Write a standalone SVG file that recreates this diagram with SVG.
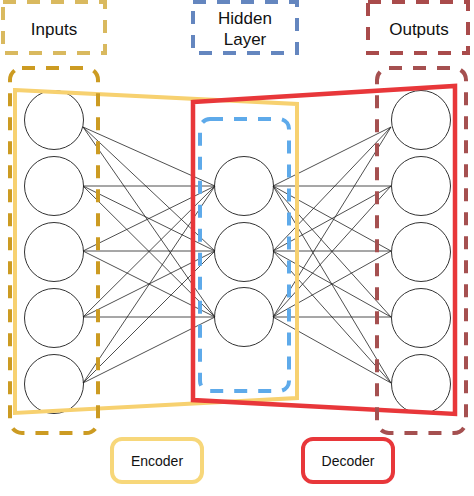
<svg xmlns="http://www.w3.org/2000/svg" width="474" height="496" viewBox="0 0 474 496">
<style>
.node{fill:#fff;stroke:#333;stroke-width:1}
.conn line{stroke:#222;stroke-width:0.8}
.lbl{font-family:"Liberation Sans",Arial,sans-serif;font-size:17px;fill:#111;text-anchor:middle}
.sm{font-size:14px}
.dash{fill:none;stroke-width:4;stroke-dasharray:13 11}
</style>
<rect width="474" height="496" fill="#fff"/>
<g id="input-nodes">
<circle class="node" cx="54" cy="120" r="29.5"/>
<circle class="node" cx="54" cy="186" r="29.5"/>
<circle class="node" cx="54" cy="252" r="29.5"/>
<circle class="node" cx="54" cy="318" r="29.5"/>
<circle class="node" cx="54" cy="384" r="29.5"/>
</g>
<g id="hidden-nodes">
<circle class="node" cx="244" cy="186" r="29.5"/>
<circle class="node" cx="244" cy="252" r="29.5"/>
<circle class="node" cx="244" cy="317" r="29.5"/>
</g>
<g id="output-nodes">
<circle class="node" cx="421" cy="120" r="29.5"/>
<circle class="node" cx="421" cy="186" r="29.5"/>
<circle class="node" cx="421" cy="252" r="29.5"/>
<circle class="node" cx="421" cy="318" r="29.5"/>
<circle class="node" cx="421" cy="384" r="29.5"/>
</g>
<g id="connectors" class="conn">
<line x1="83" y1="127" x2="215" y2="186"/><line x1="83" y1="127" x2="215" y2="251"/><line x1="83" y1="127" x2="215" y2="317"/>
<line x1="83" y1="186" x2="215" y2="186"/><line x1="83" y1="186" x2="215" y2="251"/><line x1="83" y1="186" x2="215" y2="317"/>
<line x1="83" y1="251" x2="215" y2="186"/><line x1="83" y1="251" x2="215" y2="251"/><line x1="83" y1="251" x2="215" y2="317"/>
<line x1="83" y1="317" x2="215" y2="186"/><line x1="83" y1="317" x2="215" y2="251"/><line x1="83" y1="317" x2="215" y2="317"/>
<line x1="83" y1="383" x2="215" y2="186"/><line x1="83" y1="383" x2="215" y2="251"/><line x1="83" y1="383" x2="215" y2="317"/>
<line x1="273" y1="186" x2="391" y2="127"/><line x1="273" y1="186" x2="391" y2="186"/><line x1="273" y1="186" x2="391" y2="251"/><line x1="273" y1="186" x2="391" y2="317"/><line x1="273" y1="186" x2="391" y2="383"/>
<line x1="273" y1="251" x2="391" y2="127"/><line x1="273" y1="251" x2="391" y2="186"/><line x1="273" y1="251" x2="391" y2="251"/><line x1="273" y1="251" x2="391" y2="317"/><line x1="273" y1="251" x2="391" y2="383"/>
<line x1="273" y1="317" x2="391" y2="127"/><line x1="273" y1="317" x2="391" y2="186"/><line x1="273" y1="317" x2="391" y2="251"/><line x1="273" y1="317" x2="391" y2="317"/><line x1="273" y1="317" x2="391" y2="383"/>
</g>
<g id="encoder-region">
<polygon points="15,90 297,104 297,398 15,413" fill="none" stroke="#f7d170" stroke-width="4" stroke-linejoin="miter"/>
</g>
<g id="decoder-region">
<polygon points="193,102 455,86 455,414 193,400" fill="none" stroke="#e8373a" stroke-width="4.5" stroke-linejoin="miter"/>
</g>
<g id="inputs-group">
<rect class="dash" x="10" y="68" width="88" height="365" rx="12" stroke="#cc9b22" stroke-dasharray="12 10"/>
</g>
<g id="hidden-group">
<rect class="dash" x="200" y="119" width="89" height="272" rx="10" stroke="#5eaaea" stroke-dasharray="13 9"/>
</g>
<g id="outputs-group">
<rect class="dash" x="377" y="68" width="89" height="365" rx="12" stroke="#a55050" stroke-dasharray="12 10"/>
</g>
<g id="inputs-label">
<rect class="dash" x="3" y="2" width="102" height="51" stroke="#d9b95f"/>
<text class="lbl" x="54" y="35">Inputs</text>
</g>
<g id="hidden-label">
<rect class="dash" x="193" y="2" width="104" height="51" stroke="#6486bf"/>
<text class="lbl" x="245" y="24">Hidden</text>
<text class="lbl" x="245" y="45">Layer</text>
</g>
<g id="outputs-label">
<rect class="dash" x="368" y="2" width="100" height="51" stroke="#a94b4b"/>
<text class="lbl" x="419" y="35">Outputs</text>
</g>
<g id="encoder-label">
<rect x="112" y="439" width="90" height="43" rx="10" fill="#fff" stroke="#f7d77a" stroke-width="4"/>
<text class="lbl sm" x="157" y="466">Encoder</text>
</g>
<g id="decoder-label">
<rect x="303" y="439" width="90" height="43" rx="10" fill="#fff" stroke="#e8373a" stroke-width="4"/>
<text class="lbl sm" x="348" y="466">Decoder</text>
</g>
</svg>
